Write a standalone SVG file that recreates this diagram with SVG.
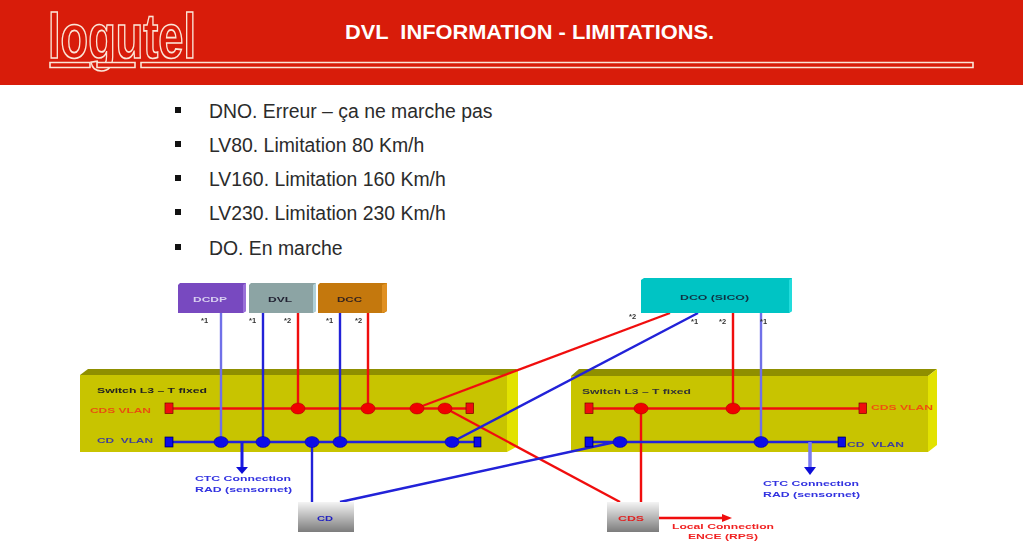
<svg xmlns="http://www.w3.org/2000/svg" width="1023" height="554" viewBox="0 0 1023 554">
<style>
text{font-family:"Liberation Sans",Arial,sans-serif}
.b{font-size:19.400px;fill:#2b2b2b}
.s{fill:#111}
.t{font-size:7.600px;font-weight:bold}
.n{font-size:7.500px;font-weight:bold;fill:#333}
.r{stroke:#f01010;stroke-width:2.400;fill:none}
.u{stroke:#2020d8;stroke-width:2.400;fill:none}
.pu{stroke:#7070e8;stroke-width:2.400;fill:none}
.rn{fill:#f00000;stroke:#a00000;stroke-width:.5}
.un{fill:#0808e8;stroke:#000090;stroke-width:.5}
.cr{fill:#f01010;stroke:#700;stroke-width:.7}
.cb{fill:#0808e8;stroke:#005;stroke-width:.7}
</style>
<defs>
<linearGradient id="g" x1="0" y1="0" x2="0" y2="1"><stop offset="0" stop-color="#f4f4f4"/><stop offset="1" stop-color="#7c7c7c"/></linearGradient>
<filter id="bl" x="-5%" y="-5%" width="110%" height="110%"><feGaussianBlur stdDeviation="0.55"/></filter>
</defs>
<rect width="1023" height="554" fill="#fff"/>
<g id="header">
<rect width="1023" height="85" fill="#d81c0a"/>
<text transform="translate(48 58) scale(1 1.75)" font-size="36" font-weight="bold" textLength="148" lengthAdjust="spacingAndGlyphs" fill="#d81c0a" stroke="#fbe6d8" stroke-width="1">logutel</text>
<path d="M50 62.500H90V67.500H50Z M97 62.500H135V67.500H97Z M141 62.500H973V67.500H141Z" fill="#d81c0a" stroke="#fbe6d8" stroke-width="1.600"/>
<text x="345" y="39" font-size="21" font-weight="bold" fill="#fff" textLength="369" lengthAdjust="spacingAndGlyphs" xml:space="preserve">DVL  INFORMATION - LIMITATIONS.</text>
</g>
<g id="bullets">
<rect x="175" y="107" width="6" height="6" class="s"/><text x="209" y="117.500" class="b">DNO. Erreur – ça ne marche pas</text>
<rect x="175" y="141" width="6" height="6" class="s"/><text x="209" y="151.500" class="b">LV80. Limitation 80 Km/h</text>
<rect x="175" y="175" width="6" height="6" class="s"/><text x="209" y="185.500" class="b">LV160. Limitation 160 Km/h</text>
<rect x="175" y="209" width="6" height="6" class="s"/><text x="209" y="219.500" class="b">LV230. Limitation 230 Km/h</text>
<rect x="175" y="244" width="6" height="6" class="s"/><text x="209" y="254.500" class="b">DO. En marche</text>
</g>
<g filter="url(#bl)">
<g id="switch1">
<path d="M80 375L88 369H518L507 375Z" fill="#8f8f00"/>
<path d="M507 375L518 369V446L507 452Z" fill="#e2e200"/>
<rect x="80" y="375" width="427" height="77" fill="#c8c400"/>
<text x="97" y="393" class="t" fill="#222" textLength="110" lengthAdjust="spacingAndGlyphs">Switch L3 – T fixed</text>
<text x="90" y="413" class="t" fill="#e85010" textLength="61" lengthAdjust="spacingAndGlyphs">CDS VLAN</text>
<text x="97" y="443" class="t" fill="#404098" textLength="56" lengthAdjust="spacingAndGlyphs" xml:space="preserve">CD  VLAN</text>
</g>
<g id="switch2">
<path d="M571 376L579 369H937L928 376Z" fill="#8f8f00"/>
<path d="M928 376L937 369V445L928 452Z" fill="#e2e200"/>
<rect x="571" y="376" width="357" height="76" fill="#c8c400"/>
<text x="582" y="394" class="t" fill="#333" textLength="109" lengthAdjust="spacingAndGlyphs">Switch L3 – T fixed</text>
<text x="871" y="410" class="t" fill="#f05010" textLength="62" lengthAdjust="spacingAndGlyphs">CDS VLAN</text>
<text x="847" y="447" class="t" fill="#404098" textLength="57" lengthAdjust="spacingAndGlyphs" xml:space="preserve">CD  VLAN</text>
</g>
<g id="connectors">
<path class="r" d="M168 408.500H470M589 408.500H862M298 313V408M368 313V408M733 313V408M417 408L670 313M445 408L620 502M641 408V502M656 518H722"/>
<path class="u" d="M168 442H477M589 442H841M263 313V442M340 313V442M312 442V502M452 442L698 313M340 502L620 441"/>
<path class="pu" d="M221 313V442M761 313V442"/>
<path d="M242 442V467" stroke="#1a1ae0" stroke-width="3" fill="none"/>
<path d="M236 467H248L242 474Z" fill="#1010d8"/>
<path d="M810 442V467" stroke="#7a7af0" stroke-width="3.500" fill="none"/>
<path d="M804 467H816L810 475Z" fill="#1010d8"/>
<path d="M722 514L732 518L722 522Z" fill="#f01010"/>
<rect x="165" y="403" width="8" height="10.500" class="cr"/><rect x="466" y="403" width="7.500" height="10.500" class="cr"/>
<rect x="165" y="437" width="8" height="10" class="cb"/><rect x="474" y="437" width="7" height="10" class="cb"/>
<rect x="585" y="403" width="8" height="10.500" class="cr"/><rect x="859" y="403" width="7.500" height="10.500" class="cr"/>
<rect x="585" y="437" width="8" height="10" class="cb"/><rect x="838" y="437" width="7.500" height="10" class="cb"/>
<g class="rn"><ellipse cx="298" cy="408.500" rx="7" ry="5.500"/><ellipse cx="368" cy="408.500" rx="7" ry="5.500"/><ellipse cx="417" cy="408.500" rx="7" ry="5.500"/><ellipse cx="445" cy="408.500" rx="7" ry="5.500"/><ellipse cx="641" cy="408.500" rx="7" ry="5.500"/><ellipse cx="733" cy="408.500" rx="7" ry="5.500"/></g>
<g class="un"><ellipse cx="221" cy="442" rx="7" ry="5.500"/><ellipse cx="263" cy="442" rx="7" ry="5.500"/><ellipse cx="312" cy="442" rx="7" ry="5.500"/><ellipse cx="340" cy="442" rx="7" ry="5.500"/><ellipse cx="452" cy="442" rx="7" ry="5.500"/><ellipse cx="620" cy="442" rx="7" ry="5.500"/><ellipse cx="761" cy="442" rx="7" ry="5.500"/></g>
</g>
<g id="DCDP">
<path d="M178 285L180 283H246V311L243 313H178Z" fill="#7848c0"/><path d="M243 285L246 283V311L243 313Z" fill="#9a70d8"/>
<text x="193" y="302" class="t" fill="#d8d0f0" textLength="34" lengthAdjust="spacingAndGlyphs">DCDP</text>
<text x="201" y="323" class="n">*1</text>
</g>
<g id="DVL">
<path d="M249 285L251 283H316V311L313 313H249Z" fill="#8ca4a4"/><path d="M313 285L316 283V311L313 313Z" fill="#b0d0d8"/>
<text x="268" y="302" class="t" fill="#223" textLength="24" lengthAdjust="spacingAndGlyphs">DVL</text>
<text x="249" y="323" class="n">*1</text><text x="284" y="323" class="n">*2</text>
</g>
<g id="DCC">
<path d="M318 285L320 283H387V311L384 313H318Z" fill="#c47808"/><path d="M382 285L387 283V311L382 313Z" fill="#e09020"/>
<text x="337" y="302" class="t" fill="#322" textLength="25" lengthAdjust="spacingAndGlyphs">DCC</text>
<text x="326" y="323" class="n">*1</text><text x="355" y="323" class="n">*2</text>
</g>
<g id="DCO">
<path d="M641 280L644 278H792V311L789 313H641Z" fill="#00c4c4"/><path d="M789 280L792 278V311L789 313Z" fill="#20dcdc"/>
<text x="680" y="300" class="t" fill="#134" textLength="69" lengthAdjust="spacingAndGlyphs">DCO (SICO)</text>
<text x="629" y="319" class="n">*2</text><text x="691" y="324" class="n">*1</text><text x="719" y="324" class="n">*2</text><text x="760" y="324" class="n">*1</text>
</g>
<g id="CD">
<rect x="298" y="502" width="56" height="30" fill="url(#g)"/>
<text x="317" y="521" class="t" fill="#2020c0" textLength="16" lengthAdjust="spacingAndGlyphs">CD</text>
</g>
<g id="CDS">
<rect x="607" y="502" width="52" height="30" fill="url(#g)"/>
<text x="618" y="521" class="t" fill="#e02020" textLength="26" lengthAdjust="spacingAndGlyphs">CDS</text>
</g>
<g id="labels">
<text x="195" y="481" class="t" fill="#3030e0" textLength="96" lengthAdjust="spacingAndGlyphs">CTC Connection</text>
<text x="195" y="492" class="t" fill="#3030e0" textLength="97" lengthAdjust="spacingAndGlyphs">RAD (sensornet)</text>
<text x="763" y="486" class="t" fill="#3030e0" textLength="96" lengthAdjust="spacingAndGlyphs">CTC Connection</text>
<text x="763" y="497" class="t" fill="#3030e0" textLength="97" lengthAdjust="spacingAndGlyphs">RAD (sensornet)</text>
<text x="672" y="529" class="t" fill="#f02020" textLength="102" lengthAdjust="spacingAndGlyphs">Local Connection</text>
<text x="688" y="539" class="t" fill="#f02020" textLength="70" lengthAdjust="spacingAndGlyphs">ENCE (RPS)</text>
</g>
</g>
</svg>
